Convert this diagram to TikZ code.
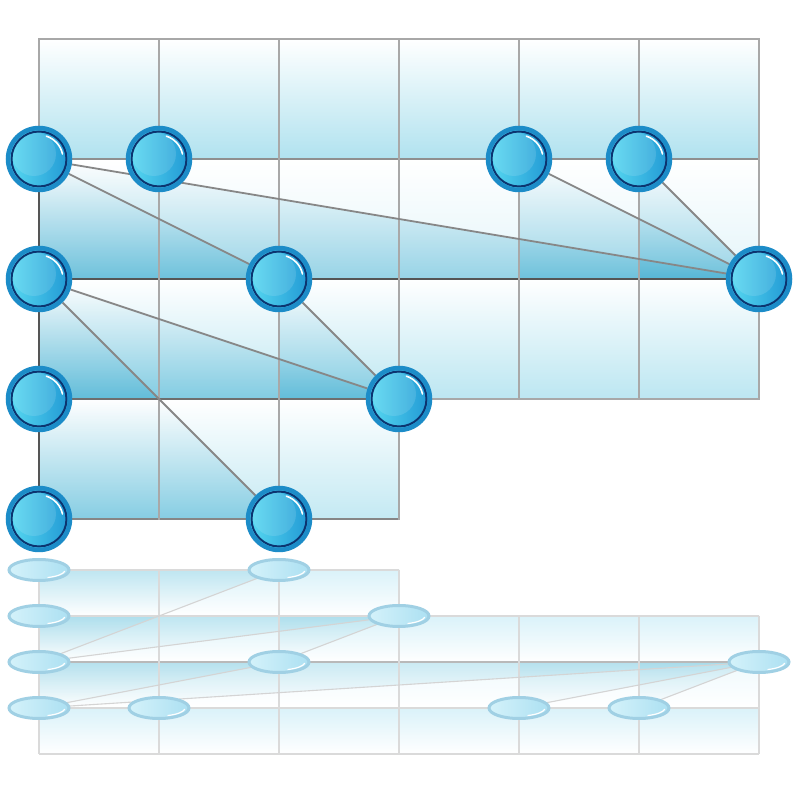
\documentclass[tikz,border=0pt]{standalone}
\usetikzlibrary{shapes.geometric}
\pgfdeclarelayer{back}
\pgfdeclarelayer{gridlayer}
\pgfdeclarelayer{links}
\pgfsetlayers{back,gridlayer,links,main}
\definecolor{ringblue}{RGB}{28,140,200}
\definecolor{navyring}{RGB}{12,52,112}
\definecolor{balllight}{RGB}{88,218,242}
\definecolor{balldark}{RGB}{32,152,212}
\definecolor{bandcyan}{RGB}{176,226,239}
\definecolor{deepcyan}{RGB}{60,172,208}
\definecolor{gridgray}{RGB}{168,168,168}
\definecolor{darkgridgray}{RGB}{85,85,85}
\definecolor{linkgray}{RGB}{135,135,135}
\definecolor{refring}{RGB}{160,208,228}
\definecolor{reflight}{RGB}{212,242,250}
\definecolor{refdark}{RGB}{172,224,242}
\definecolor{refgrid}{RGB}{218,218,218}
\definecolor{refband}{RGB}{218,242,249}
\definecolor{reftri}{RGB}{150,212,230}
\definecolor{reflinkgray}{RGB}{212,212,212}
\begin{document}
\begin{tikzpicture}[x=1pt,y=1pt,
  ball/.style={circle, minimum size=62pt, inner sep=0pt, draw=ringblue, line width=4.5pt,
    left color=balllight, right color=balldark,
    path picture={
      \fill[white,opacity=0.12] ([shift={(-5pt,5pt)}]path picture bounding box.center) circle (22pt);
      \draw[navyring,line width=2pt] (path picture bounding box.center) circle (27.5pt);
      \draw[white,line width=1.6pt,line cap=round] ([shift={(12:24pt)}]path picture bounding box.center) arc[start angle=12,end angle=72,radius=24pt];
    }},
  refball/.style={ellipse, minimum width=60pt, minimum height=21pt, inner sep=0pt, draw=refring, line width=3pt,
    left color=reflight, right color=refdark,
    path picture={
      \draw[white,line width=1.2pt,line cap=round] ([shift={(8.9pt,-7.5pt)}]path picture bounding box.center) arc[start angle=-70,end angle=-10,x radius=26pt,y radius=8pt];
    }},
  tri/.style={top color=white, bottom color=deepcyan, fill opacity=0.45},
  rtri/.style={top color=reftri, bottom color=white, fill opacity=0.4},
  gline/.style={draw=gridgray, line width=2pt, line cap=rect},
  dline/.style={draw=darkgridgray, line width=2.5pt, line cap=rect},
  rline/.style={draw=refgrid, line width=1.3pt},
  link/.style={draw=linkgray, line width=1.8pt},
  rlink/.style={draw=reflinkgray, line width=1.1pt}
]
\useasboundingbox (0,0) rectangle (800,800);

% main nodes
\node[ball] (n11) at (39,641) {};
\node[ball] (n12) at (159,641) {};
\node[ball] (n15) at (519,641) {};
\node[ball] (n16) at (639,641) {};
\node[ball] (n21) at (39,521) {};
\node[ball] (n23) at (279,521) {};
\node[ball] (n27) at (759,521) {};
\node[ball] (n31) at (39,401) {};
\node[ball] (n34) at (399,401) {};
\node[ball] (n41) at (39,281) {};
\node[ball] (n43) at (279,281) {};

% reflected nodes
\node[refball] (r11) at (39,92) {};
\node[refball] (r12) at (159,92) {};
\node[refball] (r15) at (519,92) {};
\node[refball] (r16) at (639,92) {};
\node[refball] (r21) at (39,138) {};
\node[refball] (r23) at (279,138) {};
\node[refball] (r27) at (759,138) {};
\node[refball] (r31) at (39,184) {};
\node[refball] (r34) at (399,184) {};
\node[refball] (r41) at (39,230) {};
\node[refball] (r43) at (279,230) {};

\begin{pgfonlayer}{back}
\fill[white] (0,0) rectangle (800,800);
% main bands
\shade[top color=white, bottom color=bandcyan] (39,641) rectangle (759,761);
\shade[top color=white, bottom color=bandcyan!35] (39,521) rectangle (759,641);
\shade[top color=white, bottom color=bandcyan!85] (39,401) rectangle (759,521);
\shade[top color=white, bottom color=bandcyan!75] (39,281) rectangle (399,401);
% main area fills
\shade[tri] (n11.center) -- (n27.center) -- (n21.center) -- cycle;
\shade[tri] (n11.center) -- (n23.center) -- (n21.center) -- cycle;
\shade[tri] (n15.center) -- (n27.center) -- (519,521) -- cycle;
\shade[tri] (n16.center) -- (n27.center) -- (639,521) -- cycle;
\shade[tri] (n21.center) -- (n34.center) -- (n31.center) -- cycle;
\shade[tri] (n23.center) -- (n34.center) -- (279,401) -- cycle;
\shade[tri] (n21.center) -- (159,401) -- (n31.center) -- cycle;
\shade[tri] (n31.center) -- (159,401) -- (n43.center) -- (n41.center) -- cycle;
% reflected bands
\shade[top color=refband, bottom color=white] (39,46) rectangle (759,92);
\shade[top color=refband!45, bottom color=white] (39,92) rectangle (759,138);
\shade[top color=refband, bottom color=white] (39,138) rectangle (759,184);
\shade[top color=refband, bottom color=white] (39,184) rectangle (399,230);
% reflected area fills
\shade[rtri] (r11.center) -- (r27.center) -- (r21.center) -- cycle;
\shade[rtri] (r11.center) -- (r23.center) -- (r21.center) -- cycle;
\shade[rtri] (r15.center) -- (r27.center) -- (519,138) -- cycle;
\shade[rtri] (r16.center) -- (r27.center) -- (639,138) -- cycle;
\shade[rtri] (r21.center) -- (r34.center) -- (r31.center) -- cycle;
\shade[rtri] (r23.center) -- (r34.center) -- (279,184) -- cycle;
\shade[rtri] (r21.center) -- (159,184) -- (r31.center) -- cycle;
\shade[rtri] (r31.center) -- (159,184) -- (r43.center) -- (r41.center) -- cycle;
\end{pgfonlayer}

\begin{pgfonlayer}{gridlayer}
% main grid
\draw[gline] (39,761) -- (759,761);
\draw[gline, draw=gridgray!85!black] (39,641) -- (759,641);
\draw[dline] (39,521) -- (759,521);
\draw[dline, line width=2.2pt, draw=darkgridgray!85!white] (39,401) -- (399,401);
\draw[gline] (399,401) -- (759,401);
\draw[gline, draw=gridgray!80!black] (39,281) -- (399,281);
\draw[gline] (39,761) -- (39,641);
\draw[dline] (39,641) -- (39,281);
\draw[gline] (159,761) -- (159,281);
\draw[gline] (279,761) -- (279,281);
\draw[gline] (399,761) -- (399,281);
\draw[gline] (519,761) -- (519,401);
\draw[gline] (639,761) -- (639,401);
\draw[gline] (759,761) -- (759,401);
% reflected grid
\draw[rline] (39,230) -- (399,230);
\draw[rline] (39,184) -- (759,184);
\draw[rline, draw=refgrid!85!black] (39,138) -- (759,138);
\draw[rline] (39,92) -- (759,92);
\draw[rline] (39,46) -- (759,46);
\draw[rline] (39,230) -- (39,46);
\draw[rline] (159,230) -- (159,46);
\draw[rline] (279,230) -- (279,46);
\draw[rline] (399,230) -- (399,46);
\draw[rline] (519,184) -- (519,46);
\draw[rline] (639,184) -- (639,46);
\draw[rline] (759,184) -- (759,46);
\end{pgfonlayer}

\begin{pgfonlayer}{links}
\draw[link] (n11) -- (n23);
\draw[link] (n11) -- (n27);
\draw[link] (n15) -- (n27);
\draw[link] (n16) -- (n27);
\draw[link] (n21) -- (n34);
\draw[link] (n23) -- (n34);
\draw[link] (n21) -- (n43);
\draw[rlink] (r11) -- (r23);
\draw[rlink] (r11) -- (r27);
\draw[rlink] (r15) -- (r27);
\draw[rlink] (r16) -- (r27);
\draw[rlink] (r21) -- (r34);
\draw[rlink] (r23) -- (r34);
\draw[rlink] (r21) -- (r43);
\end{pgfonlayer}
\end{tikzpicture}
\end{document}
